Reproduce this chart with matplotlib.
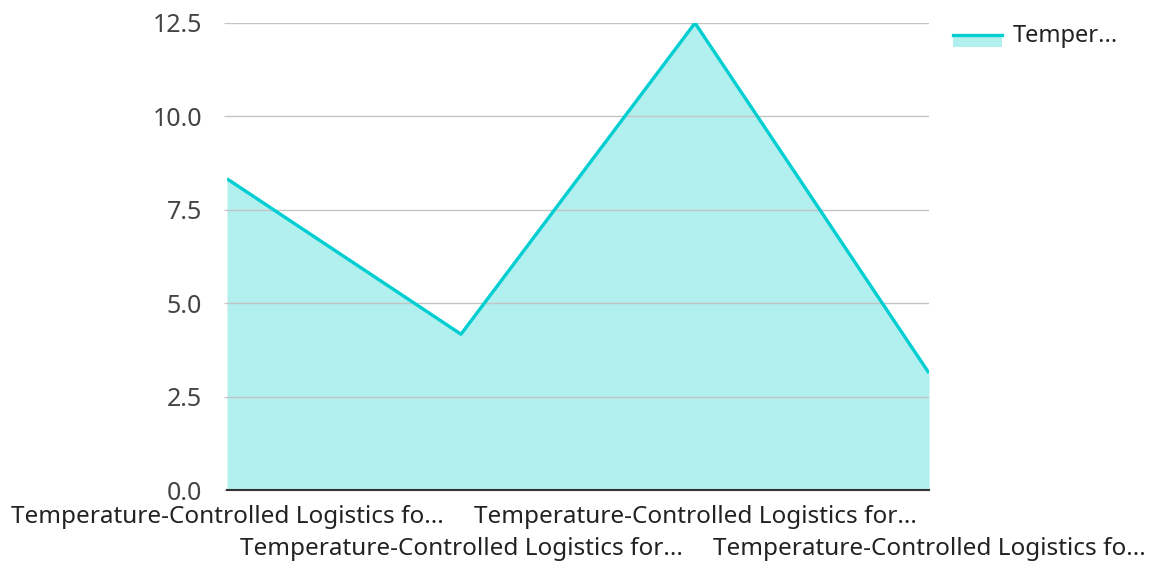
import numpy as np
import matplotlib.pyplot as plt
from matplotlib.patches import Rectangle
from matplotlib.lines import Line2D

plt.rcParams['font.family'] = ['Noto Sans', 'DejaVu Sans']

# data
categories = ["Temperature-Controlled Logistics fo...",
              "Temperature-Controlled Logistics for...",
              "Temperature-Controlled Logistics for...",
              "Temperature-Controlled Logistics fo..."]
values = [8.33, 4.17, 12.5, 3.13]
series_name = "Temper..."
y_ticks = [0.0, 2.5, 5.0, 7.5, 10.0, 12.5]

line_col = "#00CED1"
fill_col = "#B2EFEF"
text_col = "#444444"

fig = plt.figure(figsize=(11.5, 5.62), dpi=100)
ax = fig.add_axes([227/1150, 72/562, 702/1150, 467/562])

x = np.arange(len(values))
ax.fill_between(x, 0, values, color=fill_col, linewidth=0, zorder=1)
ax.plot(x, values, color=line_col, linewidth=2.4, zorder=3, solid_capstyle='butt')

ax.set_xlim(0, len(values) - 1)
ax.set_ylim(0, 12.5)
ax.set_yticks(y_ticks)
ax.set_yticklabels([f"{t:.1f}" for t in y_ticks])
ax.grid(axis='y', color='#c4c4c4', linewidth=1, zorder=2)
ax.set_axisbelow(False)

for s in ['top', 'right', 'left']:
    ax.spines[s].set_visible(False)
ax.spines['bottom'].set_color('#333333')
ax.spines['bottom'].set_linewidth(1.5)
ax.spines['bottom'].set_zorder(4)

ax.tick_params(axis='y', length=2, color='#c4c4c4', pad=16, labelsize=18, labelcolor=text_col)

# alternate the category labels over two rows: even ones as major ticks, odd ones as minor
ax.set_xticks(x[::2])
ax.set_xticklabels(categories[::2])
ax.set_xticks(x[1::2], minor=True)
ax.set_xticklabels(categories[1::2], minor=True)
ax.tick_params(axis='x', which='major', length=0, pad=11, labelsize=17.5, labelcolor='#222222')
ax.tick_params(axis='x', which='minor', length=0, pad=34, labelsize=17.5, labelcolor='#222222')

# legend drawn by hand: line over a filled swatch
fig.add_artist(Rectangle((953/1150, (562-47)/562), 49/1150, 12/562,
                         transform=fig.transFigure, color=fill_col, linewidth=0))
fig.add_artist(Line2D([953/1150, 1002/1150], [(562-35)/562] * 2,
                      transform=fig.transFigure, color=line_col, linewidth=2.4))
fig.text(1013/1150, (562-36)/562, series_name, fontsize=17, color='#222222', va='center')

fig.savefig("out.png", dpi=100)
